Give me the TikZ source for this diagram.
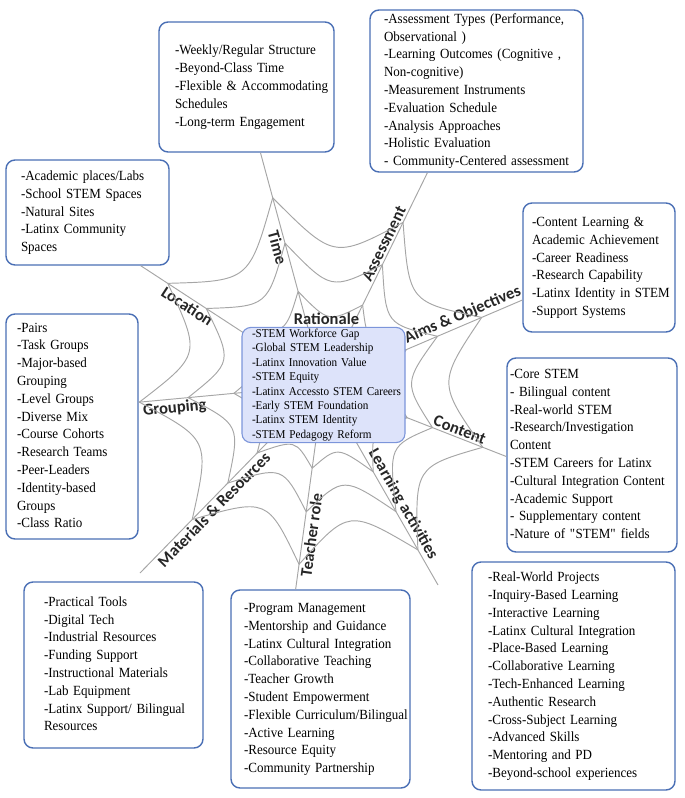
\documentclass[tikz,border=0pt]{standalone}
\usepackage{fontspec}
\setmainfont{Liberation Serif}[FakeStretch=0.93]
\newfontfamily\lblfont{Carlito}
\usepackage{xcolor}
\definecolor{boxblue}{HTML}{4A6FB5}
\definecolor{hubfill}{HTML}{DDE3FA}
\definecolor{hubline}{HTML}{7C95DA}
\definecolor{webgray}{HTML}{A6A6A6}
\usepackage{tikz}
\usetikzlibrary{positioning, calc}
\newcommand{\entries}[1]{\begin{tabular}{@{}l@{}}#1\end{tabular}}
\newcommand{\ringpts}[5]{%
  \coordinate (#11) at ($(hub)!#3pt!(#2)$);
  \coordinate (#12) at ($(hub)!#4pt!(#2)$);
  \coordinate (#13) at ($(hub)!#5pt!(#2)$);}
\newcommand{\threads}[2]{%
  \foreach \k in {1,2,3}
    \draw[thread] (#1\k) .. controls ($(hub)!0.72!($(#1\k)!0.5!(#2\k)$)$) .. (#2\k);}

\begin{document}
\begin{tikzpicture}[
    x=1pt, y=-1pt,
    box/.style={draw=boxblue, fill=white, rounded corners=9pt, line width=1.4pt, align=left, inner ysep=0pt, font=\fontsize{14}{17.8}\selectfont},
    hubbox/.style={draw=hubline, fill=hubfill, rounded corners=9pt, line width=1.1pt, align=left, inner ysep=0pt, font=\fontsize{12}{14.4}\selectfont},
    spoke/.style={draw=webgray, line width=0.95pt},
    thread/.style={draw=webgray, line width=0.95pt},
    lbl/.style={font=\lblfont\bfseries\fontsize{16.5}{18}\selectfont, text=black!85, inner sep=2pt}
]
\useasboundingbox (0,0) rectangle (685,798);

% Outer boxes
\node[box, text width=143pt, inner xsep=16pt, minimum height=130pt] (timebox) at (246.5,87) {\entries{-Weekly/Regular Structure\\-Beyond-Class Time\\-Flexible \& Accommodating\\Schedules\\-Long-term Engagement}};
\node[box, text width=185pt, inner xsep=14pt, minimum height=162pt] (assessbox) at (476.5,91) {\entries{-Assessment Types (Performance,\\Observational )\\-Learning Outcomes (Cognitive ,\\Non-cognitive)\\-Measurement Instruments\\-Evaluation Schedule\\-Analysis Approaches\\-Holistic Evaluation\\- Community-Centered assessment}};
\node[box, text width=133pt, inner xsep=15pt, minimum height=105pt] (locbox) at (87.5,212.5) {\entries{-Academic places/Labs\\-School STEM Spaces\\-Natural Sites\\-Latinx Community\\Spaces}};
\node[box, text width=134pt, inner xsep=9pt, minimum height=129pt] (aimsbox) at (599,267.5) {\entries{-Content Learning \&\\Academic Achievement\\-Career Readiness\\-Research Capability\\-Latinx Identity in STEM\\-Support Systems}};
\node[box, text width=110pt, inner xsep=11pt, minimum height=225pt] (groupbox) at (72,426.5) {\entries{-Pairs\\-Task Groups\\-Major-based\\Grouping\\-Level Groups\\-Diverse Mix\\-Course Cohorts\\-Research Teams\\-Peer-Leaders\\-Identity-based\\Groups\\-Class Ratio}};
\node[box, text width=164pt, inner xsep=3pt, minimum height=194pt] (contentbox) at (592,455) {\entries{-Core STEM\\- Bilingual content\\-Real-world STEM\\-Research/Investigation\\Content\\-STEM Careers for Latinx\\-Cultural Integration Content\\-Academic Support\\- Supplementary content\\-Nature of \textquotedbl STEM\textquotedbl{} fields}};
\node[box, text width=139pt, inner xsep=20pt, minimum height=166pt] (matbox) at (113.5,665) {\entries{-Practical Tools\\-Digital Tech\\-Industrial Resources\\-Funding Support\\-Instructional Materials\\-Lab Equipment\\-Latinx Support/ Bilingual\\Resources}};
\node[box, text width=153pt, inner xsep=13pt, minimum height=198pt] (teachbox) at (320.5,689) {\entries{-Program Management\\-Mentorship and Guidance\\-Latinx Cultural Integration\\-Collaborative Teaching\\-Teacher Growth\\-Student Empowerment\\-Flexible Curriculum/Bilingual\\-Active Learning\\-Resource Equity\\-Community Partnership}};
\node[box, text width=171pt, inner xsep=16pt, minimum height=228pt] (learnbox) at (573.5,676) {\entries{-Real-World Projects\\-Inquiry-Based Learning\\-Interactive Learning\\-Latinx Cultural Integration\\-Place-Based Learning\\-Collaborative Learning\\-Tech-Enhanced Learning\\-Authentic Research\\-Cross-Subject Learning\\-Advanced Skills\\-Mentoring and PD\\-Beyond-school experiences}};

% Web spokes
\coordinate (hub) at (323.5,385);
\coordinate (matend) at (140,573);
\coordinate (learnend) at (438,585);
\draw[spoke] (hub) -- (aimsbox.203) node[lbl, sloped, pos=0.72, above] (aimslbl) {Aims \& Objectives};
\draw[spoke] (hub) -- (assessbox.-121) node[lbl, sloped, pos=0.65, above] (assesslbl) {Assessment};
\draw[spoke] (hub) -- (timebox.-78) node[lbl, sloped, pos=0.60, below] (timelbl) {Time};
\draw[spoke] (hub) -- (locbox.-45) node[lbl, sloped, pos=0.72, below] (loclbl) {Location};
\draw[spoke] (hub) -- (groupbox.20) node[lbl, sloped, pos=0.81, below] (grouplbl) {Grouping};
\draw[spoke] (hub) -- (matend) node[lbl, sloped, pos=0.63, below] (matlbl) {Materials \& Resources};
\draw[spoke] (hub) -- (teachbox.104) node[lbl, sloped, pos=0.73, below] (teachlbl) {Teacher role};
\draw[spoke] (hub) -- (learnend) node[lbl, sloped, pos=0.62, above] (learnlbl) {Learning activities};
\draw[spoke] (hub) -- (contentbox.181) node[lbl, sloped, pos=0.73, above] (contentlbl) {Content};

% Web rings
\ringpts{aims}{aimsbox.203}{90}{124}{172}
\ringpts{assess}{assessbox.-121}{89}{134}{181}
\ringpts{time}{timebox.-78}{97}{147}{194}
\ringpts{loc}{locbox.-45}{95}{140}{186}
\ringpts{group}{groupbox.20}{90}{136}{185}
\ringpts{mat}{matend}{95}{137}{188}
\ringpts{teach}{teachbox.104}{84}{128}{181}
\ringpts{learn}{learnend}{100}{146}{190}
\ringpts{content}{contentbox.181}{90}{117}{171}
\threads{aims}{assess}
\threads{assess}{time}
\threads{time}{loc}
\threads{loc}{group}
\threads{group}{mat}
\threads{mat}{teach}
\threads{teach}{learn}
\threads{learn}{content}
\threads{content}{aims}

% Centre box
\node[hubbox, text width=143pt, inner xsep=10pt, minimum height=114pt] (cbox) at (hub) {\entries{-STEM Workforce Gap\\-Global STEM Leadership\\-Latinx Innovation Value\\-STEM Equity\\-Latinx Accessto STEM Careers\\-Early STEM Foundation\\-Latinx STEM Identity\\-STEM Pedagogy Reform}};
\node[lbl, above=0pt of cbox, xshift=3pt] (ratlbl) {Rationale};

\end{tikzpicture}
\end{document}
